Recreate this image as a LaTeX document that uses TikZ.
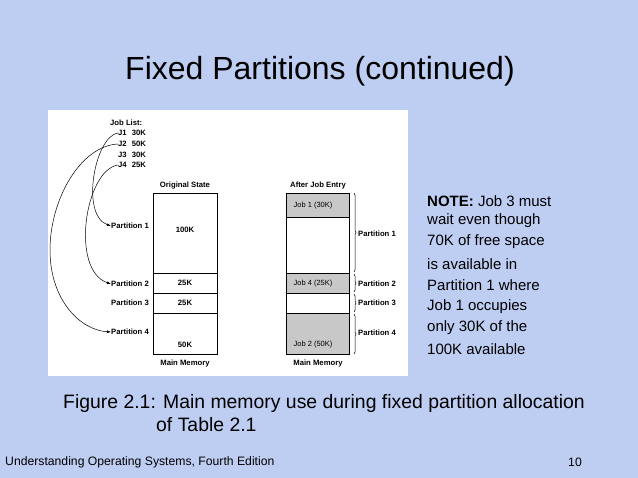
\documentclass[tikz,border=0pt]{standalone}
\usepackage{fontspec}
\setmainfont{Liberation Sans}
\usetikzlibrary{decorations.pathreplacing,arrows.meta}
\definecolor{bg}{RGB}{190,205,242}
\definecolor{jobgray}{RGB}{200,200,200}
\begin{document}
\begin{tikzpicture}[x=1pt,y=-1pt,
  sm/.style={font=\fontsize{7.7}{9}\selectfont\bfseries, inner sep=0pt},
  lab/.style={sm, anchor=east},
  box/.style={draw, line width=0.8pt},
  arr/.style={-{Latex[length=4pt,width=3pt]}, line width=0.5pt},
  brc/.style={decorate, decoration={brace, amplitude=2pt}, line width=0.5pt},
  note/.style={font=\fontsize{15}{17}\selectfont, anchor=west, inner sep=0pt}]
\fill[bg] (0,0) rectangle (638,478);
\useasboundingbox (0,0) rectangle (638,478);
% title
\node[font=\fontsize{32}{36}\selectfont] (title) at (320,71) {Fixed Partitions (continued)};
% white panel
\fill[white] (48,110) rectangle (408,376);
% job list
\node[sm, anchor=west] (jl) at (110,123) {Job List:};
\node[sm, anchor=west] (j1) at (118,133) {J1\hspace{5pt}30K};
\node[sm, anchor=west] (j2) at (118,144) {J2\hspace{5pt}50K};
\node[sm, anchor=west] (j3) at (118,155) {J3\hspace{5pt}30K};
\node[sm, anchor=west] (j4) at (118,165) {J4\hspace{5pt}25K};
% original state
\node[sm] (os) at (185,186) {Original State};
\draw[box] (153,193) rectangle (217,354);
\draw[box] (153,273) -- (217,273) (153,293) -- (217,293) (153,313) -- (217,313);
\node[sm] (s1) at (185,230) {100K};
\node[sm] (s2) at (185,283) {25K};
\node[sm] (s3) at (185,303) {25K};
\node[sm] (s4) at (185,345) {50K};
\node[sm] (mm1) at (185,364) {Main Memory};
\node[lab] (p1) at (149,226) {Partition 1};
\node[lab] (p2) at (149,284) {Partition 2};
\node[lab] (p3) at (149,303) {Partition 3};
\node[lab] (p4) at (149,332) {Partition 4};
% arrows
\draw[arr] (j1.west) .. controls (95,136) and (80,215) .. (p1.west);
\draw[arr] (j2.west) .. controls (80,146) and (50,200) .. (50,250) .. controls (50,300) and (80,330) .. (p4.west);
\draw[arr] (j4.west) .. controls (85,170) and (70,270) .. (p2.west);
% after job entry
\node[sm] (aj) at (318,186) {After Job Entry};
\fill[jobgray] (286,193) rectangle (349,217);
\fill[jobgray] (286,273) rectangle (349,293);
\fill[jobgray] (286,313) rectangle (349,354);
\draw[box] (286,193) rectangle (349,354);
\draw[box] (286,217) -- (349,217) (286,273) -- (349,273) (286,293) -- (349,293) (286,313) -- (349,313);
\node[sm, font=\fontsize{7.5}{8}\selectfont] (b1) at (313,206) {Job 1 (30K)};
\node[sm, font=\fontsize{7.5}{8}\selectfont] (b2) at (313,284) {Job 4 (25K)};
\node[sm, font=\fontsize{7.5}{8}\selectfont] (b4) at (313,345) {Job 2 (50K)};
\node[sm] (mm2) at (318,364) {Main Memory};
\draw[brc] (354,193) -- (354,272);
\draw[brc] (354,274) -- (354,292);
\draw[brc] (354,294) -- (354,312);
\draw[brc] (354,314) -- (354,354);
\node[sm, anchor=west] (q1) at (358,234) {Partition 1};
\node[sm, anchor=west] (q2) at (358,284) {Partition 2};
\node[sm, anchor=west] (q3) at (358,303) {Partition 3};
\node[sm, anchor=west] (q4) at (358,333) {Partition 4};
% note
\node[note] (n1) at (427,201) {\textbf{NOTE:} Job 3 must};
\node[note] (n2) at (427,221) {wait even though};
\node[note] (n3) at (427,242) {70K of free space};
\node[note] (n4) at (427,264) {is available in};
\node[note] (n5) at (427,285) {Partition 1 where};
\node[note] (n6) at (427,307) {Job 1 occupies};
\node[note] (n7) at (427,328) {only 30K of the};
\node[note] (n8) at (427,349) {100K available};
% caption
\node[font=\fontsize{19.4}{22}\selectfont, anchor=west, inner sep=0pt] (c1) at (63,403) {Figure 2.1: Main memory use during fixed partition allocation};
\node[font=\fontsize{19.4}{22}\selectfont, anchor=west, inner sep=0pt] (c2) at (156,425) {of Table 2.1};
% footer
\node[font=\fontsize{12.2}{14}\selectfont, anchor=west, inner sep=0pt] (f1) at (5,462) {Understanding Operating Systems, Fourth Edition};
\node[font=\fontsize{12.2}{14}\selectfont, anchor=east, inner sep=0pt] (f2) at (582,462) {10};
\end{tikzpicture}
\end{document}
